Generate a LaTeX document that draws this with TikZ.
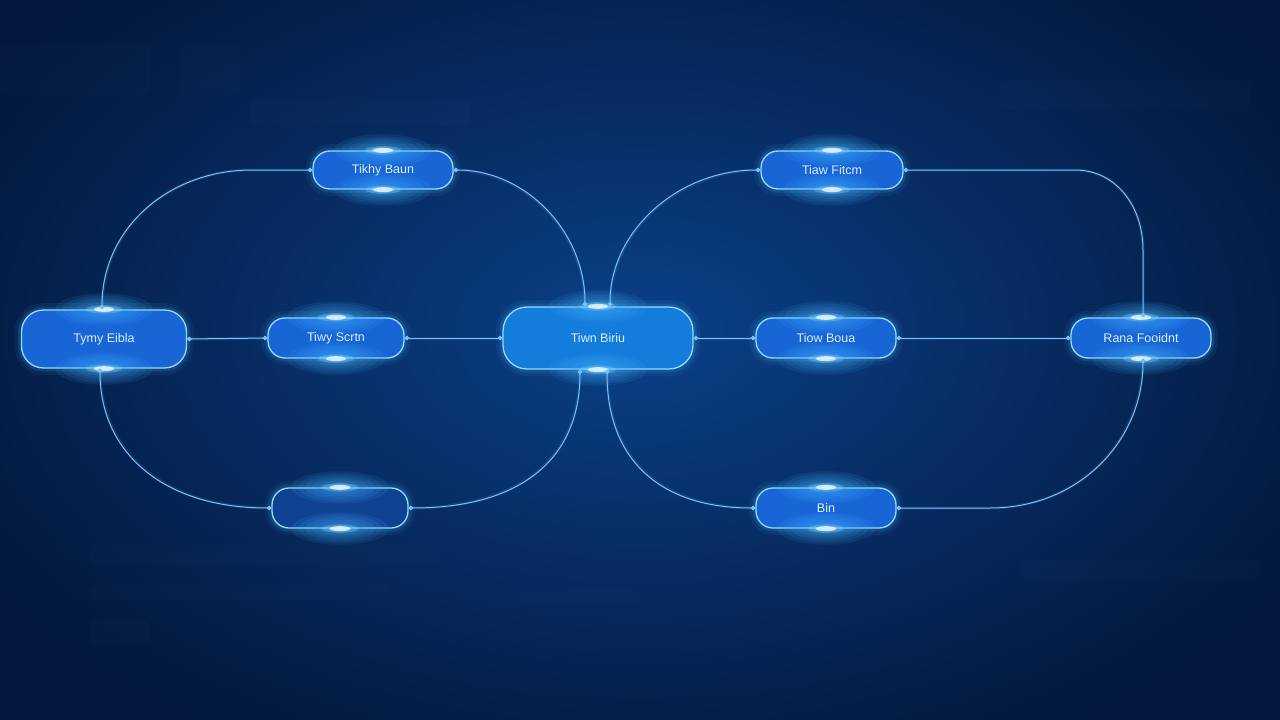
\documentclass[tikz,border=0pt]{standalone}
\usepackage{fontspec}
\setmainfont{Liberation Sans}
\usetikzlibrary{arrows.meta}
\definecolor{bgdark}{RGB}{3,24,60}
\definecolor{bgmid}{RGB}{10,64,136}
\definecolor{nodeblue}{RGB}{24,102,214}
\definecolor{rimcyan}{RGB}{150,220,255}
\definecolor{glowcyan}{RGB}{70,180,255}
\definecolor{linkblue}{RGB}{125,190,245}
\definecolor{txt}{RGB}{220,238,255}

\begin{document}
\begin{tikzpicture}[x=1pt,y=-1pt,
  box/.style={rectangle, rounded corners=17pt, fill=nodeblue, draw=rimcyan, line width=1.3pt,
    text=txt, font=\fontsize{12.5}{14}\selectfont, minimum height=40pt, inner sep=0pt,
    preaction={draw=glowcyan, line width=14pt, draw opacity=0.08},
    preaction={draw=glowcyan, line width=7pt, draw opacity=0.15}},
  link/.style={draw=linkblue, line width=1pt, {Circle[length=4.5pt]}-{Circle[length=4.5pt]},
    preaction={draw=glowcyan, line width=3pt, draw opacity=0.15, arrows=-}}]
\useasboundingbox (0,0) rectangle (1280,720);
% background
\fill[bgdark] (0,0) rectangle (1280,720);
\begin{scope}
\clip (0,0) rectangle (1280,720);
\shade[inner color=bgmid, outer color=bgdark] (640,330) ellipse (760 and 470);
\foreach \x/\y/\w/\h in {0/45/150/50, 180/45/60/50, 250/100/220/25, 90/545/350/20, 90/585/300/15, 90/620/60/25, 1000/80/250/30, 1020/560/240/20, 520/590/120/15}
  \fill[white, opacity=0.012, rounded corners=6pt] (\x,\y) rectangle ++(\w,\h);
\end{scope}

% nodes
\node[box, minimum width=140pt, minimum height=38pt] (tl) at (383,170) {Tikhy Baun};
\node[box, minimum width=142pt, minimum height=38pt] (tr) at (832,170) {Tiaw Fitcm};
\node[box, minimum width=165pt, minimum height=58pt, rounded corners=22pt] (lf) at (104,339) {Tymy Eibla};
\node[box, minimum width=136pt] (ml) at (336,338) {Tiwy Scrtn};
\node[box, minimum width=190pt, minimum height=62pt, rounded corners=24pt, fill=nodeblue!85!cyan] (ct) at (598,338) {Tiwn Biriu};
\node[box, minimum width=140pt] (mr) at (826,338) {Tiow Boua};
\node[box, minimum width=140pt] (rt) at (1141,338) {Rana Fooidnt};
\node[box, minimum width=136pt, fill=nodeblue!55!bgdark] (bl) at (340,508) {};
\node[box, minimum width=140pt] (br) at (826,508) {Bin};

% glow spots
\foreach \n in {tl,tr,lf,ml,ct,mr,rt,bl,br} {
  \foreach \k in {1,...,7} {
    \fill[glowcyan, opacity=0.10] (\n.north) ellipse ({7*\k} and {2.3*\k});
    \fill[glowcyan, opacity=0.10] (\n.south) ellipse ({7*\k} and {2.3*\k});
  }
  \foreach \k in {1,2,3} {
    \fill[rimcyan, opacity=0.3] (\n.north) ellipse ({6*\k} and {1.4*\k});
    \fill[rimcyan, opacity=0.3] (\n.south) ellipse ({6*\k} and {1.4*\k});
  }
  \fill[white, opacity=0.7] (\n.north) ellipse (10 and 2.5);
  \fill[white, opacity=0.7] (\n.south) ellipse (10 and 2.5);
}

% links
\draw[link] (lf.north -| 102,0) .. controls (102,228) and (169,170) .. (252,170) -- (tl.west);
\draw[link] (tl.east) .. controls (525,170) and (585,231) .. (ct.north -| 585,0);
\draw[link] (ct.north -| 610,0) .. controls (610,231) and (678,170) .. (tr.west);
\draw[link] (tr.east) -- (1075,170) .. controls (1115,170) and (1143,205) .. (1143,250) -- (rt.north -| 1143,0);
\draw[link] (rt.south -| 1143,0) .. controls (1143,440) and (1080,508) .. (990,508) -- (br.east);
\draw[link] (br.west) .. controls (660,508) and (607,460) .. (ct.south -| 607,0);
\draw[link] (ct.south -| 580,0) .. controls (580,460) and (520,508) .. (bl.east);
\draw[link] (bl.west) .. controls (160,508) and (100,450) .. (lf.south -| 100,0);
\draw[link] (lf.east) -- (ml.west);
\draw[link] (ml.east) -- (ct.west);
\draw[link] (ct.east) -- (mr.west);
\draw[link] (mr.east) -- (rt.west);
\end{tikzpicture}
\end{document}
